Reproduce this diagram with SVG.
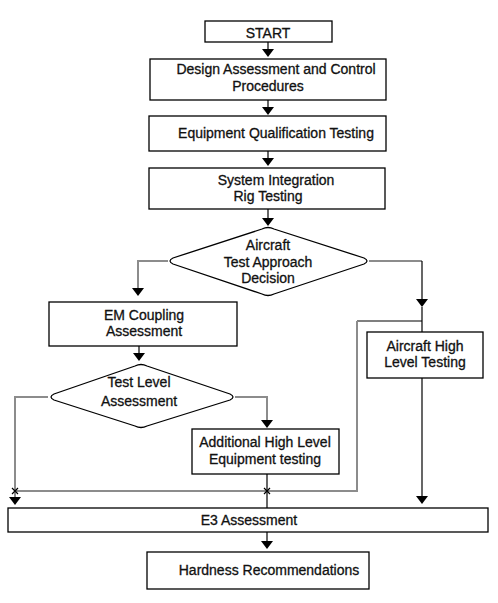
<svg xmlns="http://www.w3.org/2000/svg" width="498" height="603" viewBox="0 0 498 603">
<style>
.box{fill:#fff;stroke:#000;stroke-width:1.3}
.t{font-family:"Liberation Sans",Arial,sans-serif;font-size:14px;fill:#111;stroke:#111;stroke-width:0.3;text-anchor:middle}
.k{fill:none;stroke:#000;stroke-width:1.2}
.g{fill:none;stroke:#8c8c8c;stroke-width:2}
.ah{fill:#000}
</style>
<rect width="498" height="603" fill="#fff"/>
<g id="connectors">
<path class="k" d="M268 42V50"/><path class="ah" d="M262 49H274L268 57Z"/>
<path class="k" d="M268 100V108"/><path class="ah" d="M262 107H274L268 115Z"/>
<path class="k" d="M268 151V159"/><path class="ah" d="M262 158H274L268 166Z"/>
<path class="k" d="M268 209V219"/><path class="ah" d="M262 218H274L268 226Z"/>
<path class="g" d="M168 261H138V288"/><path class="ah" d="M132 288H144L138 296Z"/>
<path class="g" d="M369 261H422"/><path class="k" d="M422 261V299"/><path class="ah" d="M416 299H428L422 307Z"/>
<path class="k" d="M422 307V332"/>
<path class="k" d="M422 321H357"/>
<path class="g" d="M357 321V491H15V497"/>
<path class="ah" d="M9 497H21L15 505Z"/>
<path class="k" d="M139 346V353"/><path class="ah" d="M133 353H145L139 361Z"/>
<path class="g" d="M48 397H15V491"/>
<path class="g" d="M235 397H267V420"/><path class="ah" d="M261 420H273L267 428Z"/>
<path class="k" d="M267 474V508"/>
<path class="k" d="M422 378V496"/><path class="ah" d="M416 496H428L422 504Z"/>
<path class="k" d="M267 532V541"/><path class="ah" d="M261 541H273L267 549Z"/>
<path class="k" d="M12 488L18 494M18 488L12 494"/>
<path class="k" d="M264 488L270 494M270 488L264 494"/>
</g>
<g id="start"><rect class="box" x="205" y="21" width="127" height="21"/><text class="t" x="268" y="37.5">START</text></g>
<g id="design"><rect class="box" x="150" y="59" width="236" height="41"/><text class="t" x="276" y="74">Design Assessment and Control</text><text class="t" x="268" y="90.5">Procedures</text></g>
<g id="equipment"><rect class="box" x="149" y="116" width="237" height="35"/><text class="t" x="276" y="138">Equipment Qualification Testing</text></g>
<g id="system"><rect class="box" x="149" y="168" width="236" height="41"/><text class="t" x="276" y="185">System Integration</text><text class="t" x="268" y="201">Rig Testing</text></g>
<g id="decision1"><path class="box" d="M262 229Q268 226 274 229L364 258Q370 261 364 264L274 294Q268 297 262 294L173 264Q167 261 173 258Z"/><text class="t" x="268" y="249.5">Aircraft</text><text class="t" x="268" y="266.5">Test Approach</text><text class="t" x="268" y="282.5">Decision</text></g>
<g id="em"><rect class="box" x="49" y="302" width="188" height="44"/><text class="t" x="144" y="320">EM Coupling</text><text class="t" x="144" y="336">Assessment</text></g>
<g id="decision2"><path class="box" d="M135 366Q141 363 147 366L230 394Q236 397 230 400L147 426Q141 429 135 426L54 400Q48 397 54 394Z"/><text class="t" x="139" y="387">Test Level</text><text class="t" x="139" y="406">Assessment</text></g>
<g id="additional"><rect class="box" x="192" y="429" width="147" height="45"/><text class="t" x="265" y="447">Additional High Level</text><text class="t" x="265" y="464">Equipment testing</text></g>
<g id="aircraft"><rect class="box" x="367" y="332" width="116" height="46"/><text class="t" x="425" y="351">Aircraft High</text><text class="t" x="425" y="367">Level Testing</text></g>
<g id="e3"><rect class="box" x="8" y="508" width="480" height="24"/><text class="t" x="249" y="525">E3 Assessment</text></g>
<g id="hardness"><rect class="box" x="147" y="552" width="222" height="37"/><text class="t" x="269" y="575">Hardness Recommendations</text></g>
</svg>
